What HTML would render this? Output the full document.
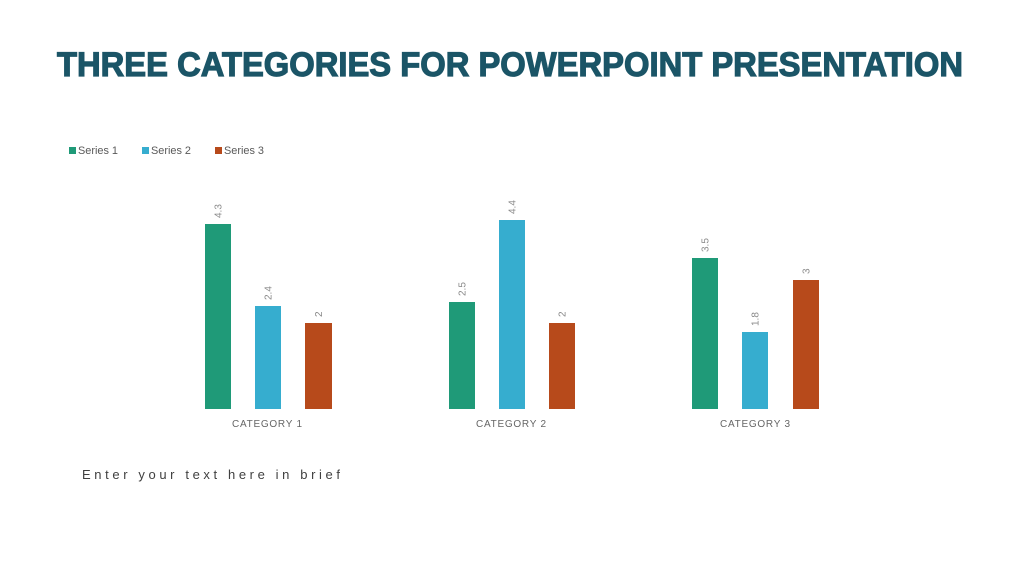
<!DOCTYPE html>
<html>
<head>
<meta charset="utf-8">
<style>
html,body{margin:0;padding:0;background:#fff;}
svg{display:block;}
</style>
</head>
<body>
<svg width="1024" height="576" viewBox="0 0 1024 576" xmlns="http://www.w3.org/2000/svg">
<rect width="1024" height="576" fill="#ffffff"/>
<text x="57" y="76" font-family="Liberation Sans, sans-serif" font-weight="bold" font-size="34" fill="#1b5567" stroke="#1b5567" stroke-width="1.2" textLength="906" lengthAdjust="spacingAndGlyphs">THREE CATEGORIES FOR POWERPOINT PRESENTATION</text>

<g font-family="Liberation Sans, sans-serif" font-size="11" fill="#595959">
<rect x="69" y="147" width="7" height="7" fill="#1f9a78"/>
<text x="78" y="154" textLength="40" lengthAdjust="spacingAndGlyphs">Series 1</text>
<rect x="142" y="147" width="7" height="7" fill="#36adcf"/>
<text x="151" y="154" textLength="40" lengthAdjust="spacingAndGlyphs">Series 2</text>
<rect x="215" y="147" width="7" height="7" fill="#b74a1b"/>
<text x="224" y="154" textLength="40" lengthAdjust="spacingAndGlyphs">Series 3</text>
</g>

<rect x="205" y="224" width="26" height="185" fill="#1f9a78"/>
<rect x="255" y="306" width="26" height="103" fill="#36adcf"/>
<rect x="305" y="323" width="27" height="86" fill="#b74a1b"/>

<rect x="449" y="302" width="26" height="107" fill="#1f9a78"/>
<rect x="499" y="220" width="26" height="189" fill="#36adcf"/>
<rect x="549" y="323" width="26" height="86" fill="#b74a1b"/>

<rect x="692" y="258" width="26" height="151" fill="#1f9a78"/>
<rect x="742" y="332" width="26" height="77" fill="#36adcf"/>
<rect x="793" y="280" width="26" height="129" fill="#b74a1b"/>

<g font-family="Liberation Sans, sans-serif" font-size="10" fill="#8a8a8a">
<text transform="translate(221.5,218) rotate(-90)">4.3</text>
<text transform="translate(271.5,300) rotate(-90)">2.4</text>
<text transform="translate(322,317) rotate(-90)">2</text>
<text transform="translate(465.5,296) rotate(-90)">2.5</text>
<text transform="translate(515.5,214) rotate(-90)">4.4</text>
<text transform="translate(565.5,317) rotate(-90)">2</text>
<text transform="translate(708.5,252) rotate(-90)">3.5</text>
<text transform="translate(758.5,326) rotate(-90)">1.8</text>
<text transform="translate(809.5,274) rotate(-90)">3</text>
</g>

<g font-family="Liberation Sans, sans-serif" font-size="10" fill="#666666">
<text x="232" y="427" textLength="70" lengthAdjust="spacing">CATEGORY 1</text>
<text x="476" y="427" textLength="70" lengthAdjust="spacing">CATEGORY 2</text>
<text x="720" y="427" textLength="70" lengthAdjust="spacing">CATEGORY 3</text>
</g>

<text x="82" y="479" font-family="Liberation Sans, sans-serif" font-size="13" fill="#404040" textLength="258" lengthAdjust="spacing">Enter your text here in brief</text>
</svg>
</body>
</html>
